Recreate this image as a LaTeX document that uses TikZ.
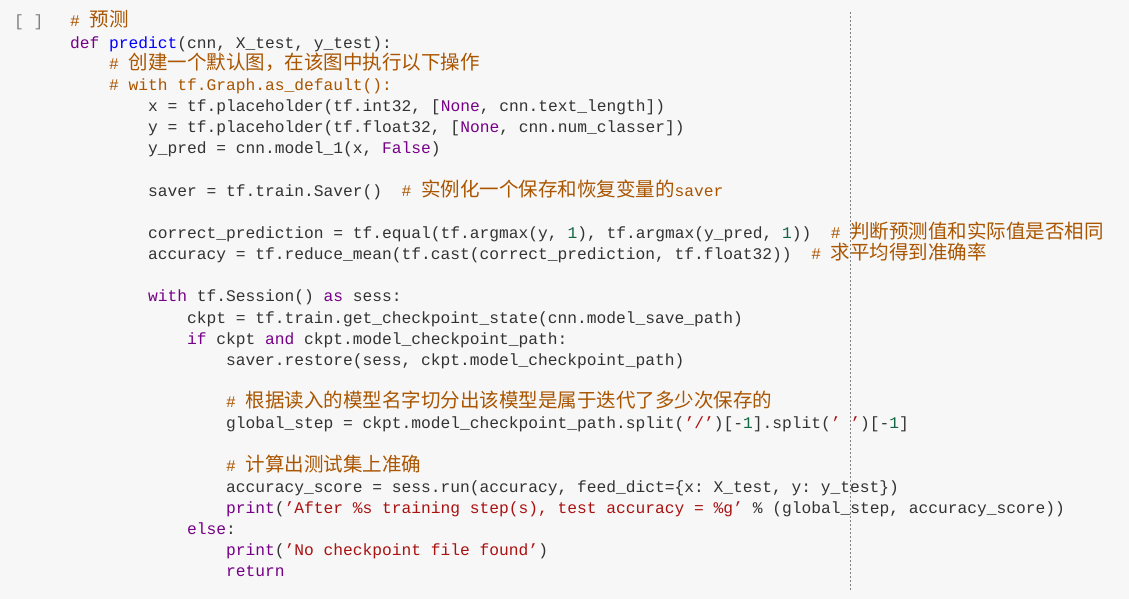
\documentclass[tikz,border=0pt]{standalone}
\usepackage{fontspec}
\setmonofont{Liberation Mono}
\newfontfamily\cjk[Scale=1.2]{Noto Sans CJK SC}
\definecolor{bg}{HTML}{F7F7F7}
\definecolor{kwc}{HTML}{770088}
\definecolor{fnc}{HTML}{0000FF}
\definecolor{cmc}{HTML}{AA5500}
\definecolor{stc}{HTML}{AA1111}
\definecolor{nmc}{HTML}{116644}
\definecolor{txc}{HTML}{333333}
\newcommand{\kw}[1]{\textcolor{kwc}{#1}}
\newcommand{\fn}[1]{\textcolor{fnc}{#1}}
\newcommand{\cm}[1]{\textcolor{cmc}{#1}}
\newcommand{\st}[1]{\textcolor{stc}{#1}}
\newcommand{\nm}[1]{\textcolor{nmc}{#1}}
\newcommand{\zh}[1]{{\cjk #1}}
\begin{document}
\begin{tikzpicture}[x=1pt,y=-1pt,
  code/.style={anchor=base west,inner sep=0pt,text=txc,font=\ttfamily\fontsize{16.25}{20}\selectfont}]
\fill[bg] (0,0) rectangle (1129,599);
\useasboundingbox (0,0) rectangle (1129,599);
\draw[gray,dashed,dash pattern=on 2pt off 2pt] (850,12) -- (850,590);
\node[code,text=gray] (br) at (14,27) {[ ]};
\def\L#1{27+21.15*#1}
\node[code] (l1) at (70,{\L{0}}) {\cm{\# \zh{预测}}};
\node[code] (l2) at (70,{\L{1}}) {\kw{def} \fn{predict}(cnn, X\_test, y\_test):};
\node[code] (l3) at (109,{\L{2}}) {\cm{\# \zh{创建一个默认图，在该图中执行以下操作}}};
\node[code] (l4) at (109,{\L{3}}) {\cm{\# with tf.Graph.as\_default():}};
\node[code] (l5) at (148,{\L{4}}) {x = tf.placeholder(tf.int32, [\kw{None}, cnn.text\_length])};
\node[code] (l6) at (148,{\L{5}}) {y = tf.placeholder(tf.float32, [\kw{None}, cnn.num\_classer])};
\node[code] (l7) at (148,{\L{6}}) {y\_pred = cnn.model\_1(x, \kw{False})};
\node[code] (l9) at (148,{\L{8}}) {saver = tf.train.Saver()\ \ \cm{\# \zh{实例化一个保存和恢复变量的}saver}};
\node[code] (l11) at (148,{\L{10}}) {correct\_prediction = tf.equal(tf.argmax(y, \nm{1}), tf.argmax(y\_pred, \nm{1}))\ \ \cm{\# \zh{判断预测值和实际值是否相同}}};
\node[code] (l12) at (148,{\L{11}}) {accuracy = tf.reduce\_mean(tf.cast(correct\_prediction, tf.float32))\ \ \cm{\# \zh{求平均得到准确率}}};
\node[code] (l14) at (148,{\L{13}}) {\kw{with} tf.Session() \kw{as} sess:};
\node[code] (l15) at (187,{\L{14}}) {ckpt = tf.train.get\_checkpoint\_state(cnn.model\_save\_path)};
\node[code] (l16) at (187,{\L{15}}) {\kw{if} ckpt \kw{and} ckpt.model\_checkpoint\_path:};
\node[code] (l17) at (226,{\L{16}}) {saver.restore(sess, ckpt.model\_checkpoint\_path)};
\node[code] (l19) at (226,{\L{18}}) {\cm{\# \zh{根据读入的模型名字切分出该模型是属于迭代了多少次保存的}}};
\node[code] (l20) at (226,{\L{19}}) {global\_step = ckpt.model\_checkpoint\_path.split(\st{’/’})[-\nm{1}].split(\st{’\ ’})[-\nm{1}]};
\node[code] (l22) at (226,{\L{21}}) {\cm{\# \zh{计算出测试集上准确}}};
\node[code] (l23) at (226,{\L{22}}) {accuracy\_score = sess.run(accuracy, feed\_dict=\{x: X\_test, y: y\_test\})};
\node[code] (l24) at (226,{\L{23}}) {\kw{print}(\st{’After \%s training step(s), test accuracy = \%g’} \% (global\_step, accuracy\_score))};
\node[code] (l25) at (187,{\L{24}}) {\kw{else}:};
\node[code] (l26) at (226,{\L{25}}) {\kw{print}(\st{’No checkpoint file found’})};
\node[code] (l27) at (226,{\L{26}}) {\kw{return}};
\end{tikzpicture}
\end{document}
